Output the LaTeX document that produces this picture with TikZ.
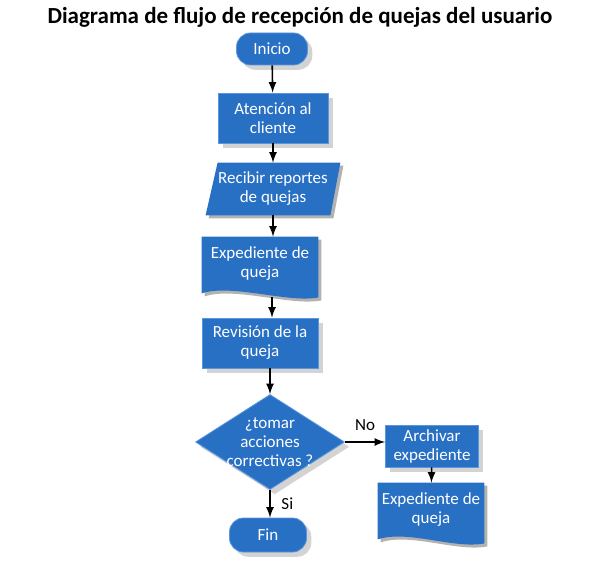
\documentclass[tikz,border=0pt]{standalone}
\usepackage{fontspec}
\setmainfont{Carlito}
\usetikzlibrary{shapes.geometric,shadows,backgrounds}
\definecolor{flowblue}{RGB}{40,112,196}
\definecolor{flowedge}{RGB}{90,150,220}
\tikzset{
	box/.style={fill=flowblue,draw=flowedge,text=white,align=center,font=\fontsize{8.5}{9.5}\selectfont,inner sep=1pt,drop shadow={opacity=0.35}},
	term/.style={box,rounded corners=7pt},
	bare/.style={text=white,align=center,font=\fontsize{8.5}{9.5}\selectfont,inner sep=0pt},
	arr/.style={-latex,thick},
}
\begin{document}
\begin{tikzpicture}[x=0.5pt,y=-0.5pt]
					\useasboundingbox (0,0) rectangle (600,567);
					% Title
					\node (title) at (300,17) {\fontsize{11.5}{12}\selectfont\bfseries Diagrama de flujo de recepción de quejas del usuario};
					% Main column
					\node[term,minimum width=35.5pt,minimum height=16pt] (inicio) at (272,49) {Inicio};
					\node[box,minimum width=55pt,minimum height=25pt] (atencion) at (273,118) {Atención al\\cliente};
					\node[bare,minimum width=62pt,minimum height=26pt] (recibir) at (273,189) {Recibir reportes\\de quejas};
					\node[bare,minimum width=58pt,minimum height=27pt] (exp) at (260,264) {Expediente de\\queja};
					\node[box,minimum width=58pt,minimum height=25pt] (revision) at (260,343) {Revisión de la\\queja};
					\node[box,diamond,aspect=1.6,minimum width=74.5pt,minimum height=47.5pt,inner sep=-6pt] (decision) at (270,442) {¿tomar\\acciones\\correctivas ?};
					\node[term,minimum width=38.5pt,minimum height=17pt] (fin) at (268,535) {Fin};
					% Right branch
					\node[box,minimum width=46.5pt,minimum height=21pt] (archivar) at (432,446) {Archivar\\expediente};
					\node[bare,minimum width=53pt,minimum height=27pt] (exp2) at (431,510) {Expediente de\\queja};
					% Hand-drawn shapes with shadow
					\begin{pgfonlayer}{background}
					\foreach \d in {exp,exp2}{
						\foreach \s/\c in {1.5pt/black!30,0pt/flowblue}
						\fill[\c] ([xshift=\s,yshift=-\s]\d.north west) -- ([xshift=\s,yshift=-\s]\d.north east) -- ([xshift=\s,yshift=-3pt-\s]\d.south east)
							.. controls ([xshift=-15pt+\s,yshift=-6pt-\s]\d.south east) and ([xshift=15pt+\s,yshift=4pt-\s]\d.south west) .. ([xshift=\s,yshift=-1pt-\s]\d.south west) -- cycle;}
					\foreach \s/\c in {1.5pt/black!30,0pt/flowblue}
						\fill[\c] ([xshift=3.5pt+\s,yshift=-\s]recibir.north west) -- ([xshift=2.5pt+\s,yshift=-\s]recibir.north east) -- ([xshift=-2.5pt+\s,yshift=-\s]recibir.south east) -- ([xshift=-2.5pt+\s,yshift=-\s]recibir.south west) -- cycle;
					\end{pgfonlayer}
					% Connectors
					\draw[arr] (inicio) -- (atencion);
					\draw[arr] (atencion) -- (recibir);
					\draw[arr] (recibir) -- (recibir|-exp.north);
					\draw[arr] ([xshift=6pt,yshift=-3pt]exp.south) -- ([xshift=6pt]revision.north);
					\draw[arr] ([xshift=5pt]revision.south) -- (decision.north);
					\draw[arr] (decision.east) -- (archivar.west|-decision.east) node[midway,above=2pt] {\fontsize{8.5}{9}\selectfont No};
					\draw[arr] (archivar) -- (exp2);
					\draw[arr] (decision.south) -- (decision.south|-fin.north) node[midway,right=2pt] {\fontsize{8.5}{9}\selectfont Si};
				\end{tikzpicture}
\end{document}
